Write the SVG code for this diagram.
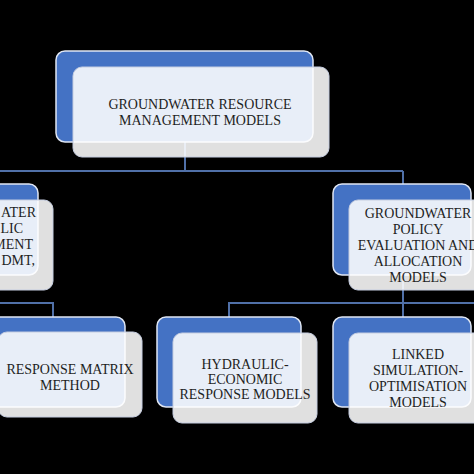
<svg xmlns="http://www.w3.org/2000/svg" width="474" height="474" viewBox="0 0 474 474">
<style>
.bk{fill:#4472c4;stroke:#dfe6f3;stroke-width:1.5}
.fr{fill:#ffffff;fill-opacity:0.88;stroke:#c5cde0;stroke-width:1}
.ln{fill:none;stroke:#5070a8;stroke-width:2}
text{font-family:"Liberation Serif","Times New Roman",serif;font-size:14px;fill:#1e1e1e;text-anchor:middle}
</style>
<rect width="474" height="474" fill="#000"/>
<g id="connectors">
<path class="ln" d="M185 142V171M-31 171H403M403 171V184"/>
<path class="ln" d="M-31 275V303H53V317"/>
<path class="ln" d="M403 275V317M229 317V303H590"/>
</g>
<g id="n-top">
<rect class="bk" x="56" y="51" width="257" height="91" rx="9"/>
<rect class="fr" x="73" y="67" width="256" height="90" rx="9"/>
<text x="200" y="109">GROUNDWATER RESOURCE</text>
<text x="200" y="125">MANAGEMENT MODELS</text>
</g>
<g id="n-left-mid">
<rect class="bk" x="-100" y="184" width="138" height="91" rx="9"/>
<rect class="fr" x="-85" y="200" width="138" height="90" rx="9"/>
<text x="36" y="217" style="text-anchor:end">ATER</text>
<text x="23" y="233" style="text-anchor:end">LIC</text>
<text x="33" y="249" style="text-anchor:end">MENT</text>
<text x="35" y="265" style="text-anchor:end">DMT,</text>
</g>
<g id="n-right-mid">
<rect class="bk" x="333" y="184" width="138" height="91" rx="9"/>
<rect class="fr" x="349" y="200" width="138" height="90" rx="9"/>
<text x="418" y="218">GROUNDWATER</text>
<text x="418" y="234">POLICY</text>
<text x="418" y="250">EVALUATION AND</text>
<text x="418" y="266">ALLOCATION</text>
<text x="418" y="282">MODELS</text>
</g>
<g id="n-response-matrix">
<rect class="bk" x="-19" y="317" width="144" height="90" rx="9"/>
<rect class="fr" x="-2" y="332" width="144" height="85" rx="9"/>
<text x="70" y="374">RESPONSE MATRIX</text>
<text x="70" y="390">METHOD</text>
</g>
<g id="n-hydraulic-economic">
<rect class="bk" x="157" y="317" width="144" height="90" rx="9"/>
<rect class="fr" x="173" y="333" width="144" height="90" rx="9"/>
<text x="245" y="369">HYDRAULIC-</text>
<text x="245" y="384">ECONOMIC</text>
<text x="245" y="399">RESPONSE MODELS</text>
</g>
<g id="n-linked">
<rect class="bk" x="333" y="317" width="138" height="90" rx="9"/>
<rect class="fr" x="349" y="333" width="138" height="90" rx="9"/>
<text x="418" y="359">LINKED</text>
<text x="418" y="375">SIMULATION-</text>
<text x="418" y="391">OPTIMISATION</text>
<text x="418" y="407">MODELS</text>
</g>
</svg>
